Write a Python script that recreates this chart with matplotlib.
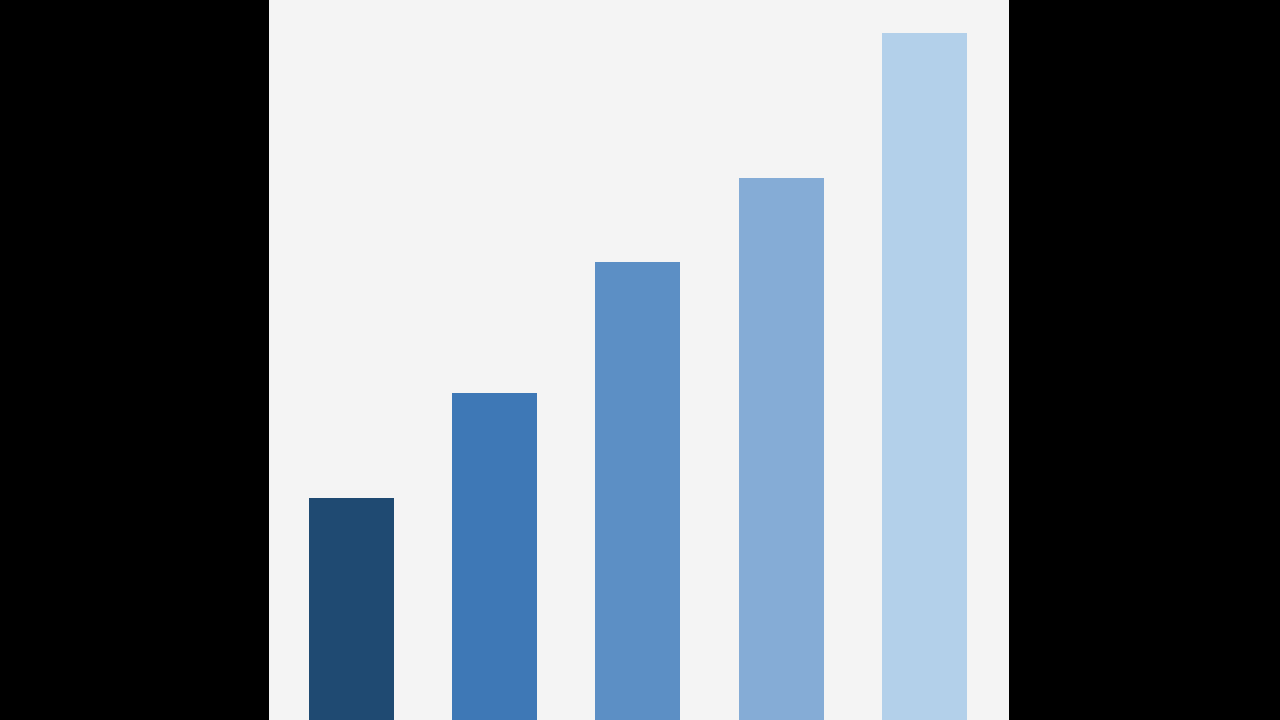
import matplotlib
matplotlib.use("Agg")
import matplotlib.pyplot as plt

categories = ["A", "B", "C", "D", "E"]
values = [22.2, 32.7, 45.8, 54.2, 68.7]
colors = ["#1f4a72", "#3e78b6", "#5c8fc5", "#85acd6", "#b3d0ea"]

fig = plt.figure(figsize=(12.8, 7.2), dpi=100, facecolor="black")
ax = fig.add_axes([269/1280, 0, 740/1280, 1])
ax.set_facecolor("#f4f4f4")
x = list(range(len(categories)))
ax.bar(x, values, width=0.593, color=colors, edgecolor="none")
ax.set_xlim(-0.572, 4.588)
ax.set_ylim(0, 72)
ax.set_xticks([])
ax.set_yticks([])
for s in ax.spines.values():
    s.set_visible(False)
fig.savefig("out.png", dpi=100, facecolor="black")
